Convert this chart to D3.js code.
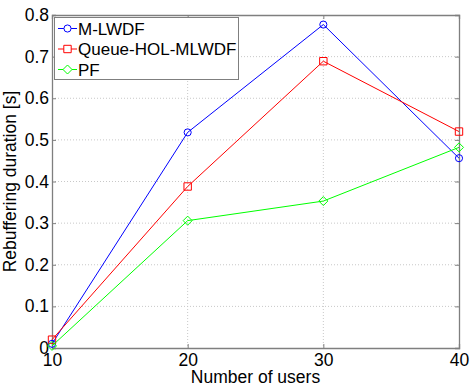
<!DOCTYPE html>
<html>
<head>
<meta charset="utf-8">
<script src="https://cdn.jsdelivr.net/npm/d3@7"></script>
<style>
  body { margin: 0; background: #fff; }
  text { font-family: "Liberation Sans", Arial, sans-serif; fill: #000; }
</style>
</head>
<body>
<div id="container"></div>
<script>
// data
let users = [10, 20, 30, 40];
let mlwdf = [0.01, 0.518, 0.777, 0.456];
let queueHol = [0.02, 0.388, 0.689, 0.52];
let pf = [0.005, 0.306, 0.353, 0.482];
let seriesNames = ["M-LWDF", "Queue-HOL-MLWDF", "PF"];
let yTicks = [0, 0.1, 0.2, 0.3, 0.4, 0.5, 0.6, 0.7, 0.8];
let xTicks = [10, 20, 30, 40];

let w = 474;
let h = 387;
let padLeft = 52, padRight = 459, padTop = 15, padBottom = 348;

let viz = d3.select("#container")
  .append("svg")
    .attr("width", w)
    .attr("height", h)
;

let xScale = d3.scaleLinear().domain([10, 40]).range([padLeft, padRight]);
let yScale = d3.scaleLinear().domain([0, 0.8]).range([padBottom, padTop]);

// grid
let grid = viz.append("g").attr("class", "grid");
grid.selectAll(".hgrid").data(yTicks.slice(1, -1)).enter()
  .append("line")
    .attr("x1", padLeft).attr("x2", padRight)
    .attr("y1", d => yScale(d)).attr("y2", d => yScale(d))
    .attr("stroke", "#c8c8c8")
    .attr("stroke-dasharray", "1,2")
;
grid.selectAll(".vgrid").data(xTicks.slice(1, -1)).enter()
  .append("line")
    .attr("y1", padTop).attr("y2", padBottom)
    .attr("x1", d => xScale(d)).attr("x2", d => xScale(d))
    .attr("stroke", "#c8c8c8")
    .attr("stroke-dasharray", "1,2")
;

// axes (matlab style box with inner ticks)
let axisColor = "#7f7f7f";
let xAxis = d3.axisBottom(xScale).tickValues(xTicks).tickSize(-4).tickPadding(6).tickFormat(d3.format("d"));
let xAxisGroup = viz.append("g")
    .attr("class", "xaxisgroup")
    .attr("transform", "translate(0," + padBottom + ")")
    .call(xAxis);
let xTop = viz.append("g")
    .attr("transform", "translate(0," + padTop + ")")
    .call(d3.axisTop(xScale).tickValues(xTicks).tickSize(-4).tickFormat(""));

let yAxis = d3.axisLeft(yScale).tickValues(yTicks).tickSize(-4).tickPadding(3).tickFormat(d => d === 0 ? "0" : d3.format(".1f")(d));
let yAxisGroup = viz.append("g")
    .attr("class", "yaxisgroup")
    .attr("transform", "translate(" + padLeft + ",0)")
    .call(yAxis);
let yRight = viz.append("g")
    .attr("transform", "translate(" + padRight + ",0)")
    .call(d3.axisRight(yScale).tickValues(yTicks).tickSize(-4).tickFormat(""));

viz.selectAll(".domain").attr("stroke", axisColor).attr("stroke-width", 1.3);
viz.selectAll(".tick line").attr("stroke", axisColor);
viz.selectAll(".tick text").style("font-size", "17.5px").attr("fill", "#000");

// axis labels
viz.append("text")
  .attr("x", (padLeft + padRight) / 2)
  .attr("y", 383)
  .attr("text-anchor", "middle")
  .style("font-size", "17.5px")
  .text("Number of users");

viz.append("text")
  .attr("transform", "translate(16," + ((padTop + padBottom) / 2) + ") rotate(-90)")
  .attr("text-anchor", "middle")
  .style("font-size", "17.5px")
  .text("Rebuffering duration [s]");

// lines
let series = [
  { name: seriesNames[0], values: mlwdf, color: "#0000ff", shape: "circle" },
  { name: seriesNames[1], values: queueHol, color: "#ff0000", shape: "square" },
  { name: seriesNames[2], values: pf, color: "#00ff00", shape: "diamond" }
];

let lineMaker = d3.line()
  .x((d, i) => xScale(users[i]))
  .y(d => yScale(d));

function markerPath(shape) {
  if (shape === "circle") return d3.symbol(d3.symbolCircle, 40)();
  if (shape === "square") return "M-3.7,-3.7H3.7V3.7H-3.7Z";
  return "M0,-4.5L4.5,0L0,4.5L-4.5,0Z";
}

let graphGroup = viz.append("g").attr("class", "graphGroup");
series.forEach(function(s) {
  graphGroup.append("path")
    .attr("d", lineMaker(s.values))
    .attr("fill", "none")
    .attr("stroke", s.color)
    .attr("stroke-width", 1);
  graphGroup.selectAll(".m-" + s.shape).data(s.values).enter()
    .append("path")
      .attr("d", markerPath(s.shape))
      .attr("transform", (d, i) => "translate(" + xScale(users[i]) + "," + yScale(d) + ")")
      .attr("fill", "none")
      .attr("stroke", s.color)
      .attr("stroke-width", 1);
});

// legend
let legend = viz.append("g").attr("class", "legend");
legend.append("rect")
  .attr("x", 54.5).attr("y", 17.5)
  .attr("width", 184).attr("height", 62)
  .attr("fill", "#fff")
  .attr("stroke", axisColor);
series.forEach(function(s, i) {
  let ly = 28.5 + i * 20.5;
  legend.append("line")
    .attr("x1", 58).attr("x2", 77)
    .attr("y1", ly).attr("y2", ly)
    .attr("stroke", s.color);
  legend.append("path")
    .attr("d", markerPath(s.shape))
    .attr("transform", "translate(67.5," + ly + ")")
    .attr("fill", "#fff")
    .attr("stroke", s.color);
  legend.append("text")
    .attr("x", 78).attr("y", ly + 6.3)
    .style("font-size", "17px")
    .text(s.name);
});
</script>
</body>
</html>
